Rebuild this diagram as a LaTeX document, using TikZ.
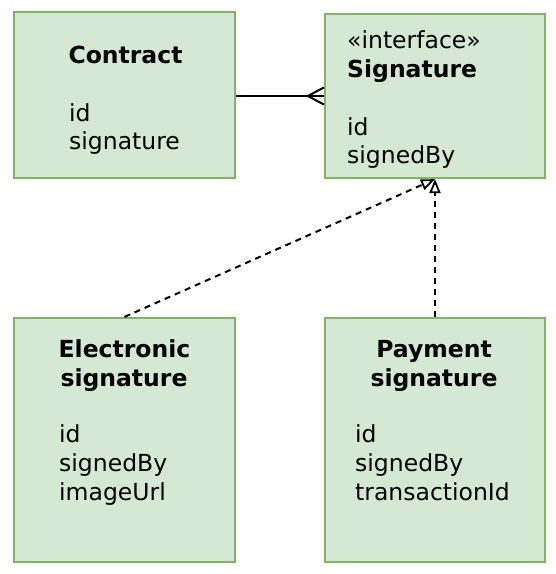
\documentclass[tikz,border=0pt]{standalone}
\usepackage{fontspec}
\setmainfont{DejaVu Sans}
\usetikzlibrary{arrows.meta}
\definecolor{boxfill}{HTML}{D5E8D4}
\definecolor{boxline}{HTML}{82B366}
\begin{document}
\begin{tikzpicture}[x=1pt,y=-1pt,
  umlbox/.style={draw=boxline, fill=boxfill, line width=2.2pt, inner sep=0pt},
  txt/.style={inner sep=0pt, font=\fontsize{23.5pt}{29pt}\selectfont},
  ttl/.style={txt, anchor=base, font=\fontsize{23.5pt}{29pt}\selectfont\bfseries},
  attr/.style={txt, anchor=base west},
  conn/.style={line width=2pt, black},
  realize/.style={conn, dash pattern=on 6pt off 5pt, -{Triangle[open, length=14pt, width=11pt, line width=1.8pt]}}
]
\useasboundingbox (0,0) rectangle (556,574);
% boxes
\node[umlbox, minimum width=221pt, minimum height=166pt] (contract) at (124.5,95) {};
\node[umlbox, minimum width=220pt, minimum height=164pt] (signature) at (435,96) {};
\node[umlbox, minimum width=221pt, minimum height=244pt] (electronic) at (124.5,440) {};
\node[umlbox, minimum width=220pt, minimum height=244pt] (payment) at (435,440) {};
% Contract texts
\node[ttl] (ct) at (125.5,63) {Contract};
\node[attr] (ca1) at (69,121) {id};
\node[attr] (ca2) at (69,149.5) {signature};
% Signature texts
\node[attr] (st0) at (347,48) {«interface»};
\node[attr, font=\fontsize{23.5pt}{29pt}\selectfont\bfseries] (st) at (347,77) {Signature};
\node[attr] (sa1) at (347,135) {id};
\node[attr] (sa2) at (347,163.5) {signedBy};
% Electronic texts
\node[ttl] (et1) at (124.5,357) {Electronic};
\node[ttl] (et2) at (124,386) {signature};
\node[attr] (ea1) at (59,442) {id};
\node[attr] (ea2) at (59,471) {signedBy};
\node[attr] (ea3) at (59,500) {imageUrl};
% Payment texts
\node[ttl] (pt1) at (434,357) {Payment};
\node[ttl] (pt2) at (434,386) {signature};
\node[attr] (pa1) at (355,442) {id};
\node[attr] (pa2) at (355,471) {signedBy};
\node[attr] (pa3) at (355,500) {transactionId};
% association with crow's foot
\coordinate (cf) at ([xshift=-16pt]signature.west);
\draw[conn] (contract.east |- signature.west) -- (signature.west);
\draw[conn] ([yshift=-8.5pt]signature.west) -- (cf) -- ([yshift=8.5pt]signature.west);
% realizations
\draw[realize] (electronic.north) -- (signature.south);
\draw[realize] (payment.north) -- (signature.south);
\end{tikzpicture}
\end{document}
